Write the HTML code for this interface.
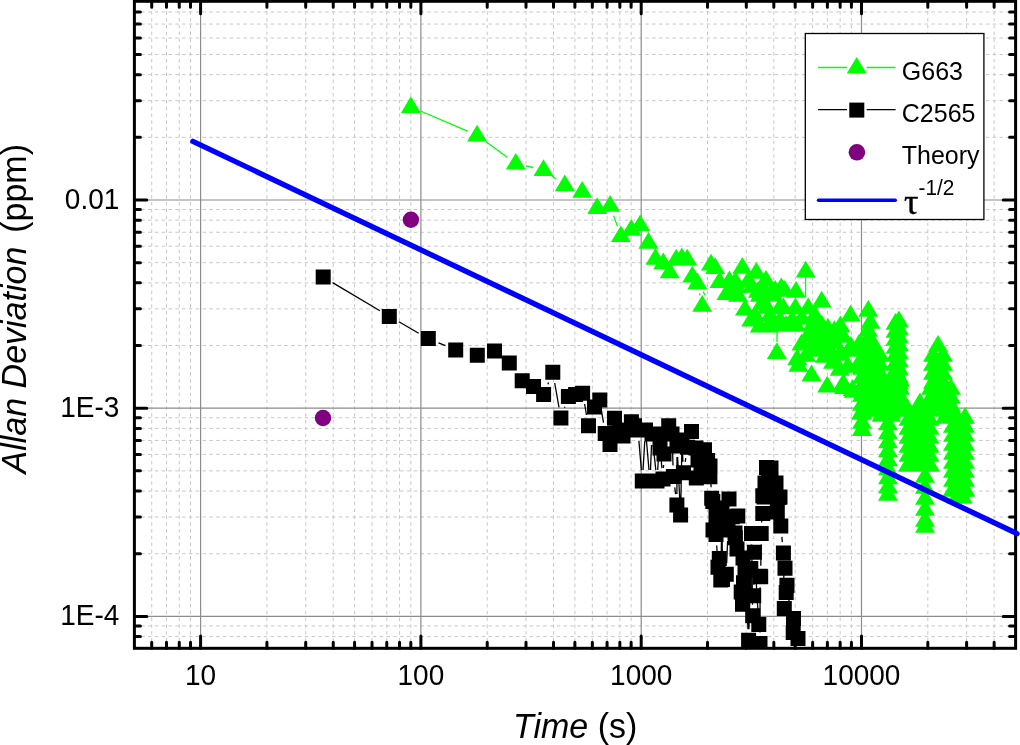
<!DOCTYPE html><html><head><meta charset="utf-8"><style>html,body{margin:0;padding:0;background:#fff;}svg{display:block;}text{font-family:"Liberation Sans",Arial,sans-serif;}</style></head><body>
<svg width="1020" height="745" viewBox="0 0 1020 745">
<defs><clipPath id="c"><rect x="134.40" y="1.30" width="881.20" height="647.00"/></clipPath></defs>
<path d="M151.73 648.30V1.30M166.48 648.30V1.30M179.25 648.30V1.30M190.52 648.30V1.30M266.92 648.30V1.30M305.71 648.30V1.30M333.23 648.30V1.30M354.58 648.30V1.30M372.03 648.30V1.30M386.78 648.30V1.30M399.55 648.30V1.30M410.82 648.30V1.30M487.22 648.30V1.30M526.01 648.30V1.30M553.53 648.30V1.30M574.88 648.30V1.30M592.33 648.30V1.30M607.08 648.30V1.30M619.85 648.30V1.30M631.12 648.30V1.30M707.52 648.30V1.30M746.31 648.30V1.30M773.83 648.30V1.30M795.18 648.30V1.30M812.63 648.30V1.30M827.38 648.30V1.30M840.15 648.30V1.30M851.42 648.30V1.30M927.82 648.30V1.30M966.61 648.30V1.30M994.13 648.30V1.30M134.40 636.58H1015.60M134.40 625.93H1015.60M134.40 553.73H1015.60M134.40 517.06H1015.60M134.40 491.05H1015.60M134.40 470.87H1015.60M134.40 454.39H1015.60M134.40 440.45H1015.60M134.40 428.38H1015.60M134.40 417.73H1015.60M134.40 345.53H1015.60M134.40 308.86H1015.60M134.40 282.85H1015.60M134.40 262.67H1015.60M134.40 246.19H1015.60M134.40 232.25H1015.60M134.40 220.18H1015.60M134.40 209.53H1015.60M134.40 137.33H1015.60M134.40 100.66H1015.60M134.40 74.65H1015.60M134.40 54.47H1015.60M134.40 37.99H1015.60M134.40 24.05H1015.60M134.40 11.98H1015.60" stroke="#c8c8c8" stroke-width="1" stroke-dasharray="3.5 3.312" fill="none"/>
<path d="M200.60 1.30V648.30M420.90 1.30V648.30M641.20 1.30V648.30M861.50 1.30V648.30M134.40 200.00H1015.60M134.40 408.20H1015.60M134.40 616.40H1015.60" stroke="#8c8c8c" stroke-width="1.2" fill="none"/>
<path d="M200.60 648.30v-12.4M200.60 1.30v12.4M420.90 648.30v-12.4M420.90 1.30v12.4M641.20 648.30v-12.4M641.20 1.30v12.4M861.50 648.30v-12.4M861.50 1.30v12.4M151.73 648.30v-6.0M151.73 1.30v6.0M166.48 648.30v-6.0M166.48 1.30v6.0M179.25 648.30v-6.0M179.25 1.30v6.0M190.52 648.30v-6.0M190.52 1.30v6.0M266.92 648.30v-6.0M266.92 1.30v6.0M305.71 648.30v-6.0M305.71 1.30v6.0M333.23 648.30v-6.0M333.23 1.30v6.0M354.58 648.30v-6.0M354.58 1.30v6.0M372.03 648.30v-6.0M372.03 1.30v6.0M386.78 648.30v-6.0M386.78 1.30v6.0M399.55 648.30v-6.0M399.55 1.30v6.0M410.82 648.30v-6.0M410.82 1.30v6.0M487.22 648.30v-6.0M487.22 1.30v6.0M526.01 648.30v-6.0M526.01 1.30v6.0M553.53 648.30v-6.0M553.53 1.30v6.0M574.88 648.30v-6.0M574.88 1.30v6.0M592.33 648.30v-6.0M592.33 1.30v6.0M607.08 648.30v-6.0M607.08 1.30v6.0M619.85 648.30v-6.0M619.85 1.30v6.0M631.12 648.30v-6.0M631.12 1.30v6.0M707.52 648.30v-6.0M707.52 1.30v6.0M746.31 648.30v-6.0M746.31 1.30v6.0M773.83 648.30v-6.0M773.83 1.30v6.0M795.18 648.30v-6.0M795.18 1.30v6.0M812.63 648.30v-6.0M812.63 1.30v6.0M827.38 648.30v-6.0M827.38 1.30v6.0M840.15 648.30v-6.0M840.15 1.30v6.0M851.42 648.30v-6.0M851.42 1.30v6.0M927.82 648.30v-6.0M927.82 1.30v6.0M966.61 648.30v-6.0M966.61 1.30v6.0M994.13 648.30v-6.0M994.13 1.30v6.0M134.40 200.00h12.4M1015.60 200.00h-12.4M134.40 408.20h12.4M1015.60 408.20h-12.4M134.40 616.40h12.4M1015.60 616.40h-12.4M134.40 636.58h6.0M1015.60 636.58h-6.0M134.40 625.93h6.0M1015.60 625.93h-6.0M134.40 553.73h6.0M1015.60 553.73h-6.0M134.40 517.06h6.0M1015.60 517.06h-6.0M134.40 491.05h6.0M1015.60 491.05h-6.0M134.40 470.87h6.0M1015.60 470.87h-6.0M134.40 454.39h6.0M1015.60 454.39h-6.0M134.40 440.45h6.0M1015.60 440.45h-6.0M134.40 428.38h6.0M1015.60 428.38h-6.0M134.40 417.73h6.0M1015.60 417.73h-6.0M134.40 345.53h6.0M1015.60 345.53h-6.0M134.40 308.86h6.0M1015.60 308.86h-6.0M134.40 282.85h6.0M1015.60 282.85h-6.0M134.40 262.67h6.0M1015.60 262.67h-6.0M134.40 246.19h6.0M1015.60 246.19h-6.0M134.40 232.25h6.0M1015.60 232.25h-6.0M134.40 220.18h6.0M1015.60 220.18h-6.0M134.40 209.53h6.0M1015.60 209.53h-6.0M134.40 137.33h6.0M1015.60 137.33h-6.0M134.40 100.66h6.0M1015.60 100.66h-6.0M134.40 74.65h6.0M1015.60 74.65h-6.0M134.40 54.47h6.0M1015.60 54.47h-6.0M134.40 37.99h6.0M1015.60 37.99h-6.0M134.40 24.05h6.0M1015.60 24.05h-6.0M134.40 11.98h6.0M1015.60 11.98h-6.0" stroke="#000" stroke-width="3" stroke-linecap="round" fill="none"/>
<g clip-path="url(#c)">
<path d="M420.5 111.0L467.5 131.1M485.6 141.5L507.3 157.3M526.0 165.9L533.3 167.5M552.0 176.0L556.3 179.1M589.4 199.4L590.0 200.1M613.6 215.6L617.4 226.1M699.6 293.4L700.0 295.4M805.6 277V297M777 327V342M703.2 291.6L705 295.3" stroke="#00ff00" stroke-width="1.3" fill="none"/>
<path d="M410.9 96.2l10.0 16.7h-20.0zM477.1 124.7l10.0 16.7h-20.0zM515.8 152.9l10.0 16.7h-20.0zM543.5 159.3l10.0 16.7h-20.0zM564.8 174.6l10.0 16.7h-20.0zM582.2 181.1l10.0 16.7h-20.0zM597.2 197.2l10.0 16.7h-20.0zM610.1 195.1l10.0 16.7h-20.0zM620.9 225.4l10.0 16.7h-20.0zM631.3 219.0l10.0 16.7h-20.0zM640.2 214.4l10.0 16.7h-20.0zM648.5 232.1l10.0 16.7h-20.0zM655.5 248.1l10.0 16.7h-20.0zM663.3 252.5l10.0 16.7h-20.0zM669.7 261.5l10.0 16.7h-20.0zM676.2 248.8l10.0 16.7h-20.0zM681.8 247.6l10.0 16.7h-20.0zM687.3 248.8l10.0 16.7h-20.0zM692.3 265.8l10.0 16.7h-20.0zM697.4 272.5l10.0 16.7h-20.0zM702.2 295.1l10.0 16.7h-20.0zM711.0 253.7l10.0 16.7h-20.0zM715.2 257.3l10.0 16.7h-20.0zM719.5 271.2l10.0 16.7h-20.0zM726.5 283.2l10.0 16.7h-20.0zM729.4 270.6l10.0 16.7h-20.0zM733.0 283.0l10.0 16.7h-20.0zM735.5 271.0l10.0 16.7h-20.0zM736.5 276.3l10.0 16.7h-20.0zM738.0 285.0l10.0 16.7h-20.0zM742.3 257.0l10.0 16.7h-20.0zM745.0 298.9l10.0 16.7h-20.0zM748.0 271.0l10.0 16.7h-20.0zM751.2 309.8l10.0 16.7h-20.0zM752.0 276.0l10.0 16.7h-20.0zM755.0 305.0l10.0 16.7h-20.0zM756.3 262.0l10.0 16.7h-20.0zM758.0 281.0l10.0 16.7h-20.0zM759.8 315.8l10.0 16.7h-20.0zM760.0 285.0l10.0 16.7h-20.0zM762.0 276.0l10.0 16.7h-20.0zM762.0 293.0l10.0 16.7h-20.0zM766.0 269.9l10.0 16.7h-20.0zM767.0 297.0l10.0 16.7h-20.0zM768.4 315.8l10.0 16.7h-20.0zM770.0 305.0l10.0 16.7h-20.0zM772.0 282.0l10.0 16.7h-20.0zM773.0 284.8l10.0 16.7h-20.0zM775.1 280.0l10.0 16.7h-20.0zM776.0 315.0l10.0 16.7h-20.0zM776.9 342.3l10.0 16.7h-20.0zM780.0 297.0l10.0 16.7h-20.0zM780.0 310.0l10.0 16.7h-20.0zM781.3 277.4l10.0 16.7h-20.0zM783.4 297.5l10.0 16.7h-20.0zM784.8 280.0l10.0 16.7h-20.0zM786.0 315.0l10.0 16.7h-20.0zM792.0 310.0l10.0 16.7h-20.0zM795.4 297.5l10.0 16.7h-20.0zM796.0 281.1l10.0 16.7h-20.0zM796.0 315.0l10.0 16.7h-20.0zM797.3 348.4l10.0 16.7h-20.0zM798.4 355.1l10.0 16.7h-20.0zM801.5 333.7l10.0 16.7h-20.0zM802.0 308.0l10.0 16.7h-20.0zM805.7 260.7l10.0 16.7h-20.0zM806.0 345.0l10.0 16.7h-20.0zM808.0 325.0l10.0 16.7h-20.0zM808.2 297.5l10.0 16.7h-20.0zM811.5 364.5l10.0 16.7h-20.0zM812.0 315.0l10.0 16.7h-20.0zM813.0 338.0l10.0 16.7h-20.0zM815.0 305.0l10.0 16.7h-20.0zM815.0 330.0l10.0 16.7h-20.0zM818.0 318.0l10.0 16.7h-20.0zM818.0 327.0l10.0 16.7h-20.0zM818.0 340.0l10.0 16.7h-20.0zM820.0 340.0l10.0 16.7h-20.0zM821.6 290.7l10.0 16.7h-20.0zM822.0 315.0l10.0 16.7h-20.0zM824.9 346.1l10.0 16.7h-20.0zM825.0 330.0l10.0 16.7h-20.0zM827.2 375.8l10.0 16.7h-20.0zM828.0 318.0l10.0 16.7h-20.0zM828.0 330.0l10.0 16.7h-20.0zM830.0 340.0l10.0 16.7h-20.0zM830.0 342.0l10.0 16.7h-20.0zM831.0 323.0l10.0 16.7h-20.0zM833.0 352.0l10.0 16.7h-20.0zM834.4 320.3l10.0 16.7h-20.0zM835.0 332.0l10.0 16.7h-20.0zM838.0 322.0l10.0 16.7h-20.0zM839.7 359.1l10.0 16.7h-20.0zM840.0 344.0l10.0 16.7h-20.0zM840.4 315.6l10.0 16.7h-20.0zM843.0 326.0l10.0 16.7h-20.0zM843.3 373.2l10.0 16.7h-20.0zM844.1 377.2l10.0 16.7h-20.0zM848.0 356.0l10.0 16.7h-20.0zM850.0 340.0l10.0 16.7h-20.0zM850.5 304.8l10.0 16.7h-20.0zM851.0 336.0l10.0 16.7h-20.0zM852.7 379.2l10.0 16.7h-20.0zM853.5 381.0l10.0 16.7h-20.0zM857.0 356.0l10.0 16.7h-20.0zM859.0 334.0l10.0 16.7h-20.0zM861.0 402.7l10.0 16.7h-20.0zM862.0 340.0l10.0 16.7h-20.0zM862.0 349.0l10.0 16.7h-20.0zM862.0 358.0l10.0 16.7h-20.0zM862.0 367.0l10.0 16.7h-20.0zM862.0 376.0l10.0 16.7h-20.0zM862.0 385.0l10.0 16.7h-20.0zM862.0 394.0l10.0 16.7h-20.0zM862.0 401.6l10.0 16.7h-20.0zM862.0 403.0l10.0 16.7h-20.0zM862.0 412.0l10.0 16.7h-20.0zM862.0 419.0l10.0 16.7h-20.0zM862.0 419.4l10.0 16.7h-20.0zM864.8 363.0l10.0 16.7h-20.0zM866.0 345.0l10.0 16.7h-20.0zM866.0 354.0l10.0 16.7h-20.0zM866.0 363.0l10.0 16.7h-20.0zM866.0 372.0l10.0 16.7h-20.0zM866.0 381.0l10.0 16.7h-20.0zM866.0 390.0l10.0 16.7h-20.0zM866.0 399.0l10.0 16.7h-20.0zM866.0 400.0l10.0 16.7h-20.0zM868.0 320.0l10.0 16.7h-20.0zM868.0 328.0l10.0 16.7h-20.0zM868.0 336.0l10.0 16.7h-20.0zM868.0 340.0l10.0 16.7h-20.0zM868.3 300.1l10.0 16.7h-20.0zM870.4 312.1l10.0 16.7h-20.0zM873.0 333.0l10.0 16.7h-20.0zM873.0 342.0l10.0 16.7h-20.0zM873.0 345.0l10.0 16.7h-20.0zM875.0 350.0l10.0 16.7h-20.0zM875.0 359.0l10.0 16.7h-20.0zM875.0 368.0l10.0 16.7h-20.0zM875.0 377.0l10.0 16.7h-20.0zM875.0 386.0l10.0 16.7h-20.0zM875.0 395.0l10.0 16.7h-20.0zM875.0 400.0l10.0 16.7h-20.0zM880.0 345.0l10.0 16.7h-20.0zM880.0 354.0l10.0 16.7h-20.0zM880.0 363.0l10.0 16.7h-20.0zM880.0 372.0l10.0 16.7h-20.0zM880.0 381.0l10.0 16.7h-20.0zM880.0 390.0l10.0 16.7h-20.0zM880.0 399.0l10.0 16.7h-20.0zM880.0 400.0l10.0 16.7h-20.0zM882.0 372.0l10.0 16.7h-20.0zM882.0 380.0l10.0 16.7h-20.0zM882.0 388.0l10.0 16.7h-20.0zM882.0 396.0l10.0 16.7h-20.0zM882.0 404.0l10.0 16.7h-20.0zM882.0 405.0l10.0 16.7h-20.0zM888.0 413.5l10.0 16.7h-20.0zM888.0 422.5l10.0 16.7h-20.0zM888.0 431.5l10.0 16.7h-20.0zM888.0 440.5l10.0 16.7h-20.0zM888.0 449.5l10.0 16.7h-20.0zM888.0 458.5l10.0 16.7h-20.0zM888.0 467.5l10.0 16.7h-20.0zM888.0 476.5l10.0 16.7h-20.0zM888.0 484.0l10.0 16.7h-20.0zM891.0 370.0l10.0 16.7h-20.0zM891.0 378.0l10.0 16.7h-20.0zM891.0 386.0l10.0 16.7h-20.0zM891.0 394.0l10.0 16.7h-20.0zM891.0 402.0l10.0 16.7h-20.0zM891.0 405.0l10.0 16.7h-20.0zM895.5 313.0l10.0 16.7h-20.0zM895.5 321.0l10.0 16.7h-20.0zM895.5 329.0l10.0 16.7h-20.0zM895.5 337.0l10.0 16.7h-20.0zM895.5 345.0l10.0 16.7h-20.0zM895.5 353.0l10.0 16.7h-20.0zM895.5 360.0l10.0 16.7h-20.0zM898.9 310.6l10.0 16.7h-20.0zM898.9 318.6l10.0 16.7h-20.0zM898.9 326.6l10.0 16.7h-20.0zM898.9 334.6l10.0 16.7h-20.0zM898.9 342.6l10.0 16.7h-20.0zM898.9 350.6l10.0 16.7h-20.0zM898.9 358.6l10.0 16.7h-20.0zM898.9 366.6l10.0 16.7h-20.0zM898.9 373.0l10.0 16.7h-20.0zM900.0 370.0l10.0 16.7h-20.0zM900.0 378.0l10.0 16.7h-20.0zM900.0 386.0l10.0 16.7h-20.0zM900.0 394.0l10.0 16.7h-20.0zM900.0 400.0l10.0 16.7h-20.0zM908.5 400.0l10.0 16.7h-20.0zM908.5 409.0l10.0 16.7h-20.0zM908.5 418.0l10.0 16.7h-20.0zM908.5 427.0l10.0 16.7h-20.0zM908.5 436.0l10.0 16.7h-20.0zM908.5 445.0l10.0 16.7h-20.0zM908.5 454.0l10.0 16.7h-20.0zM908.5 455.0l10.0 16.7h-20.0zM919.0 398.0l10.0 16.7h-20.0zM919.0 407.0l10.0 16.7h-20.0zM919.0 416.0l10.0 16.7h-20.0zM919.0 425.0l10.0 16.7h-20.0zM919.0 434.0l10.0 16.7h-20.0zM919.0 443.0l10.0 16.7h-20.0zM919.0 452.0l10.0 16.7h-20.0zM919.0 455.0l10.0 16.7h-20.0zM920.0 392.6l10.0 16.7h-20.0zM925.0 466.0l10.0 16.7h-20.0zM925.0 477.0l10.0 16.7h-20.0zM925.0 488.0l10.0 16.7h-20.0zM925.0 499.0l10.0 16.7h-20.0zM925.0 510.0l10.0 16.7h-20.0zM925.0 516.0l10.0 16.7h-20.0zM929.5 400.0l10.0 16.7h-20.0zM929.5 409.0l10.0 16.7h-20.0zM929.5 418.0l10.0 16.7h-20.0zM929.5 427.0l10.0 16.7h-20.0zM929.5 436.0l10.0 16.7h-20.0zM929.5 445.0l10.0 16.7h-20.0zM929.5 454.0l10.0 16.7h-20.0zM929.5 455.0l10.0 16.7h-20.0zM931.0 378.0l10.0 16.7h-20.0zM931.0 387.0l10.0 16.7h-20.0zM931.0 395.0l10.0 16.7h-20.0zM933.0 345.0l10.0 16.7h-20.0zM933.0 354.0l10.0 16.7h-20.0zM933.0 363.0l10.0 16.7h-20.0zM933.0 372.0l10.0 16.7h-20.0zM933.0 375.0l10.0 16.7h-20.0zM938.0 335.0l10.0 16.7h-20.0zM941.0 378.0l10.0 16.7h-20.0zM941.0 387.0l10.0 16.7h-20.0zM941.0 395.0l10.0 16.7h-20.0zM943.0 345.0l10.0 16.7h-20.0zM943.0 354.0l10.0 16.7h-20.0zM943.0 363.0l10.0 16.7h-20.0zM943.0 372.0l10.0 16.7h-20.0zM943.0 375.0l10.0 16.7h-20.0zM945.0 400.0l10.0 16.7h-20.0zM945.0 407.0l10.0 16.7h-20.0zM951.0 378.0l10.0 16.7h-20.0zM951.0 387.0l10.0 16.7h-20.0zM951.0 395.0l10.0 16.7h-20.0zM953.0 407.0l10.0 16.7h-20.0zM953.0 416.0l10.0 16.7h-20.0zM953.0 425.0l10.0 16.7h-20.0zM953.0 434.0l10.0 16.7h-20.0zM953.0 443.0l10.0 16.7h-20.0zM953.0 452.0l10.0 16.7h-20.0zM953.0 461.0l10.0 16.7h-20.0zM953.0 470.0l10.0 16.7h-20.0zM953.0 479.0l10.0 16.7h-20.0zM953.0 480.0l10.0 16.7h-20.0zM957.0 407.0l10.0 16.7h-20.0zM957.0 416.0l10.0 16.7h-20.0zM957.0 425.0l10.0 16.7h-20.0zM957.0 434.0l10.0 16.7h-20.0zM957.0 443.0l10.0 16.7h-20.0zM957.0 452.0l10.0 16.7h-20.0zM957.0 461.0l10.0 16.7h-20.0zM957.0 470.0l10.0 16.7h-20.0zM957.0 479.0l10.0 16.7h-20.0zM957.0 487.0l10.0 16.7h-20.0zM962.6 486.7l10.0 16.7h-20.0zM965.0 407.0l10.0 16.7h-20.0zM965.0 416.0l10.0 16.7h-20.0zM965.0 425.0l10.0 16.7h-20.0zM965.0 434.0l10.0 16.7h-20.0zM965.0 443.0l10.0 16.7h-20.0zM965.0 452.0l10.0 16.7h-20.0zM965.0 461.0l10.0 16.7h-20.0zM965.0 470.0l10.0 16.7h-20.0zM965.0 479.0l10.0 16.7h-20.0zM965.0 480.0l10.0 16.7h-20.0z" fill="#00ff00"/>
<path d="M332.6 282.6L379.9 310.8M398.9 321.8L418.7 333.2M438.5 342.8L445.5 345.7M547.8 384.3L548.6 382.4M554.7 383.0L559.0 407.3M564.5 407.7L564.8 406.8M584.6 404.0L586.5 415.0M601.5 410.9L603.5 422.7M611.9 433.7L612.6 429.1M638.9 441.0L641.4 470.1M643.0 470.1L644.8 441.0M646.5 441.0L649.0 470.0M650.5 470.0L651.5 445.0M653.2 444.9L655.8 470.1M657.7 470.0L659.3 445.0M661.1 458.9L661.9 468.1M663.4 468.0L663.6 465.0M665.8 443.1L666.9 436.6M672.4 445.0L673.0 465.5M674.7 487.4L675.6 494.1M676.9 494.0L677.0 457.0M677.6 457.0L680.0 504.1M680.8 504.1L681.8 451.0M682.5 451.0L682.9 461.7M685.2 461.8L685.8 458.2M696.1 459.0L696.2 467.1M710.6 477.0L711.1 487.3M712.9 512.4L712.9 519.0M716.7 545.5L717.3 556.3M721.0 569.0L721.8 519.0M722.1 531.0L722.4 568.6M726.7 563.3L727.6 541.0M728.4 519.0L728.6 510.0M737.3 538.0L737.5 527.0M738.3 527.0L740.7 581.1M742.6 593.2L742.9 569.0M743.2 569.0L743.3 571.8M745.6 581.0L748.0 629.3M748.9 629.3L750.4 579.6M751.0 557.9L751.3 544.6M751.7 544.6L752.5 604.7M753.9 584.7L754.2 563.2M755.1 563.2L758.1 613.6M760.0 632.5L760.1 587.2M760.8 565.7L761.1 544.6M761.7 522.6L762.3 506.8M776.5 494.0L776.8 500.9M780.3 508.0L780.5 515.0M781.9 536.9L782.3 542.1M783.6 564.0L784.1 597.4M784.5 597.4L784.8 579.3M785.5 579.3L785.7 581.5M788.4 596.1L791.8 621.7" stroke="#000" stroke-width="1.3" fill="none"/>
<path d="M315.7 269.5h15.0v15.0h-15.0zM381.8 308.9h15.0v15.0h-15.0zM420.8 331.1h15.0v15.0h-15.0zM448.2 342.4h15.0v15.0h-15.0zM469.8 347.8h15.0v15.0h-15.0zM487.0 343.4h15.0v15.0h-15.0zM501.8 355.5h15.0v15.0h-15.0zM514.7 373.3h15.0v15.0h-15.0zM526.0 378.9h15.0v15.0h-15.0zM536.1 387.0h15.0v15.0h-15.0zM545.3 364.7h15.0v15.0h-15.0zM553.4 410.6h15.0v15.0h-15.0zM560.9 388.9h15.0v15.0h-15.0zM568.1 387.0h15.0v15.0h-15.0zM575.1 385.7h15.0v15.0h-15.0zM581.0 418.3h15.0v15.0h-15.0zM587.0 399.5h15.0v15.0h-15.0zM592.3 392.5h15.0v15.0h-15.0zM597.7 426.1h15.0v15.0h-15.0zM602.5 437.0h15.0v15.0h-15.0zM607.0 410.8h15.0v15.0h-15.0zM611.5 424.5h15.0v15.0h-15.0zM615.5 428.5h15.0v15.0h-15.0zM619.5 422.5h15.0v15.0h-15.0zM623.9 414.2h15.0v15.0h-15.0zM627.0 418.2h15.0v15.0h-15.0zM630.5 422.5h15.0v15.0h-15.0zM634.8 473.6h15.0v15.0h-15.0zM638.0 422.5h15.0v15.0h-15.0zM642.5 473.5h15.0v15.0h-15.0zM644.5 426.5h15.0v15.0h-15.0zM649.5 473.5h15.0v15.0h-15.0zM652.5 426.5h15.0v15.0h-15.0zM652.5 440.5h15.0v15.0h-15.0zM655.5 471.5h15.0v15.0h-15.0zM656.5 446.5h15.0v15.0h-15.0zM661.2 418.2h15.0v15.0h-15.0zM664.5 426.5h15.0v15.0h-15.0zM665.9 469.0h15.0v15.0h-15.0zM669.4 497.5h15.0v15.0h-15.0zM669.5 438.5h15.0v15.0h-15.0zM673.1 507.6h15.0v15.0h-15.0zM674.5 432.5h15.0v15.0h-15.0zM675.9 465.2h15.0v15.0h-15.0zM680.1 439.8h15.0v15.0h-15.0zM684.0 424.1h15.0v15.0h-15.0zM688.5 440.5h15.0v15.0h-15.0zM688.8 470.6h15.0v15.0h-15.0zM690.5 452.5h15.0v15.0h-15.0zM693.5 460.5h15.0v15.0h-15.0zM697.0 442.2h15.0v15.0h-15.0zM700.1 453.1h15.0v15.0h-15.0zM702.4 469.3h15.0v15.0h-15.0zM702.5 458.5h15.0v15.0h-15.0zM704.2 490.8h15.0v15.0h-15.0zM705.3 493.9h15.0v15.0h-15.0zM705.5 522.5h15.0v15.0h-15.0zM708.5 506.5h15.0v15.0h-15.0zM708.5 518.1h15.0v15.0h-15.0zM708.5 527.0h15.0v15.0h-15.0zM710.5 559.8h15.0v15.0h-15.0zM711.8 551.1h15.0v15.0h-15.0zM713.3 572.5h15.0v15.0h-15.0zM714.5 500.5h15.0v15.0h-15.0zM714.5 512.5h15.0v15.0h-15.0zM715.0 572.1h15.0v15.0h-15.0zM718.8 566.8h15.0v15.0h-15.0zM720.5 522.5h15.0v15.0h-15.0zM721.5 491.5h15.0v15.0h-15.0zM724.7 509.2h15.0v15.0h-15.0zM727.5 525.5h15.0v15.0h-15.0zM727.9 530.2h15.0v15.0h-15.0zM729.5 541.5h15.0v15.0h-15.0zM730.3 508.5h15.0v15.0h-15.0zM733.7 584.6h15.0v15.0h-15.0zM735.0 596.7h15.0v15.0h-15.0zM735.5 550.5h15.0v15.0h-15.0zM736.0 575.3h15.0v15.0h-15.0zM736.9 576.1h15.0v15.0h-15.0zM737.5 562.5h15.0v15.0h-15.0zM741.1 632.8h15.0v15.0h-15.0zM743.2 561.1h15.0v15.0h-15.0zM743.3 561.4h15.0v15.0h-15.0zM744.0 526.1h15.0v15.0h-15.0zM745.2 608.2h15.0v15.0h-15.0zM746.2 588.2h15.0v15.0h-15.0zM746.9 544.7h15.0v15.0h-15.0zM751.3 617.1h15.0v15.0h-15.0zM752.5 636.0h15.0v15.0h-15.0zM752.6 568.7h15.0v15.0h-15.0zM753.2 569.2h15.0v15.0h-15.0zM753.7 526.1h15.0v15.0h-15.0zM755.3 488.3h15.0v15.0h-15.0zM755.3 506.0h15.0v15.0h-15.0zM756.5 489.5h15.0v15.0h-15.0zM757.5 475.5h15.0v15.0h-15.0zM759.0 460.0h15.0v15.0h-15.0zM760.9 472.2h15.0v15.0h-15.0zM763.5 460.5h15.0v15.0h-15.0zM765.0 481.8h15.0v15.0h-15.0zM768.5 475.5h15.0v15.0h-15.0zM769.8 504.4h15.0v15.0h-15.0zM771.4 489.9h15.0v15.0h-15.0zM772.5 489.5h15.0v15.0h-15.0zM773.3 518.5h15.0v15.0h-15.0zM775.9 545.5h15.0v15.0h-15.0zM776.8 600.9h15.0v15.0h-15.0zM777.5 560.8h15.0v15.0h-15.0zM778.7 585.0h15.0v15.0h-15.0zM779.4 578.0h15.0v15.0h-15.0zM779.5 577.7h15.0v15.0h-15.0zM785.7 625.1h15.0v15.0h-15.0zM786.0 611.1h15.0v15.0h-15.0zM790.5 631.1h15.0v15.0h-15.0z" fill="#000"/>
<circle cx="410.9" cy="219.7" r="8.2" fill="#800080"/><circle cx="323" cy="418" r="8.2" fill="#800080"/>
</g>
<rect x="134.40" y="1.30" width="881.20" height="647.00" fill="none" stroke="#000" stroke-width="3"/>
<path d="M192.9 141.35L1017 533.6" stroke="#0000ff" stroke-width="5.4" stroke-linecap="round" fill="none"/>
<rect x="805.3" y="33.5" width="178.6" height="186" fill="#fff" stroke="#000" stroke-width="1.3"/>
<path d="M818.1 67.5H847M866.7 67.5H895.6" stroke="#00ff00" stroke-width="1.3"/>
<path d="M856.7 56.9l10 16.7h-20z" fill="#00ff00"/>
<path d="M818.1 109.6H847M866.7 109.6H895.6" stroke="#000" stroke-width="1.3"/>
<rect x="849.3" y="102.6" width="15" height="15" fill="#000"/>
<circle cx="856.9" cy="152.3" r="8.3" fill="#800080"/>
<path d="M818.5 200.2H895.3" stroke="#0000ff" stroke-width="3.4" stroke-linecap="round"/>
<text transform="translate(901.8,79.8) scale(1,1.04)" font-size="25">G663</text>
<text transform="translate(901.8,122.2) scale(1,1.04)" font-size="25">C2565</text>
<text transform="translate(901.8,164.4) scale(1,1.04)" font-size="25">Theory</text>
<text x="904" y="213.8" stroke="#000" stroke-width="0.4" style="font-family:'Liberation Serif';font-size:36px">τ</text>
<text transform="translate(918.6,195.4) scale(1,1.04)" font-size="20.8">-1/2</text>
<text transform="translate(200.60,685.3) scale(1,1.04)" font-size="28" text-anchor="middle">10</text>
<text transform="translate(420.90,685.3) scale(1,1.04)" font-size="28" text-anchor="middle">100</text>
<text transform="translate(641.20,685.3) scale(1,1.04)" font-size="28" text-anchor="middle">1000</text>
<text transform="translate(861.50,685.3) scale(1,1.04)" font-size="28" text-anchor="middle">10000</text>
<text transform="translate(119.3,208.95) scale(1,1.04)" font-size="28" text-anchor="end">0.01</text>
<text transform="translate(119.3,417.15) scale(1,1.04)" font-size="28" text-anchor="end">1E-3</text>
<text transform="translate(119.3,625.35) scale(1,1.04)" font-size="28" text-anchor="end">1E-4</text>
<text transform="translate(513,737.9) scale(1,1.04)" font-size="34" style="white-space:pre"><tspan font-style="italic">Time</tspan> (s)</text>
<text transform="translate(25.8,473.4) rotate(-90) scale(1,1.04)" font-size="34"><tspan font-style="italic">Allan Deviation</tspan><tspan dx="4.5"> (ppm)</tspan></text>
</svg></body></html>
